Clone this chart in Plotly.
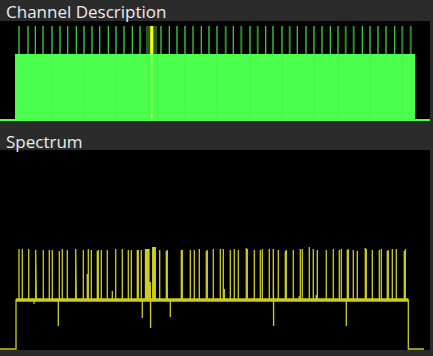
import plotly.graph_objects as go

# ---------------- data ----------------
# Channel Description panel (x in frequency bins)
band_start = 15
band_end = 415
channel_bright = [35.3, 67.7, 76.3, 99.7, 108.3, 132.3, 169.3, 193.0, 201.3, 233.3,
                  265.7, 297.3, 330.3, 362.3, 394.7]
channel_dark = [19.0, 28.0, 43.0, 52.0, 60.0, 84.0, 92.0, 116.0, 124.0, 140.0,
                161.0, 177.0, 185.0, 209.0, 217.0, 225.7, 241.3, 250.0, 257.7, 273.0,
                282.0, 289.7, 306.0, 314.0, 322.0, 338.0, 345.7, 353.7, 370.0, 378.0,
                386.0, 402.3, 410.7]
channel_edges = [52, 84, 116, 148, 157, 185, 217, 250, 282, 314, 338, 370, 402]
selected_channel = 151.7
selected_band = [146.0, 157.0]
bar_level = 67
tick_level = 95

# Spectrum panel (dB)
floor_db = -99.5
noise_db = -75.0
spectrum_start = 16
spectrum_end = 408.3
spectrum_stop = 424
spike_x = [19.0, 22.3, 28.7, 35.7, 36.3, 43.3, 49.3, 52.3, 59.3, 62.3, 67.3, 75.7, 76.3,
           83.3, 87.3, 88.3, 91.3, 97.3, 98.3, 101.3, 107.3, 112.3, 115.7, 122.3, 128.3,
           131.3, 137.3, 138.3, 141.3, 145.5, 146.3, 147.2, 148.1, 149.0, 150.3, 152.7,
           153.5, 154.4, 155.3, 159.7, 166.3, 167.3, 181.3, 182.3, 190.3, 194.3, 199.3,
           206.3, 207.3, 213.3, 220.3, 223.3, 224.3, 230.3, 234.3, 238.3, 246.3, 247.3,
           254.3, 260.3, 262.3, 269.3, 273.3, 278.3, 285.3, 286.3, 293.3, 299.3, 300.3,
           302.3, 309.3, 313.3, 316.3, 317.3, 326.3, 333.3, 339.3, 341.3, 347.3, 348.3,
           353.3, 357.3, 365.3, 366.3, 372.3, 379.3, 381.3, 387.3, 388.3, 392.3, 396.3,
           404.3, 405.3]
spike_db = [-49.5, -49.5, -49.5, -50.0, -50.0, -50.0, -50.0, -50.0, -50.5, -49.5, -50.0, -49.5, -49.5,
            -50.0, -62.0, -49.5, -50.0, -50.5, -50.0, -50.0, -50.0, -70.5, -49.5, -49.5, -50.0,
            -50.0, -50.0, -50.0, -50.0, -49.5, -49.5, -49.5, -49.5, -49.5, -66.0, -48.5,
            -48.5, -48.5, -48.5, -50.0, -50.5, -50.0, -50.0, -50.0, -50.0, -50.0, -49.5,
            -50.5, -50.0, -49.5, -49.5, -49.5, -69.5, -50.0, -49.5, -50.0, -49.0, -49.5,
            -50.0, -50.0, -49.5, -49.5, -49.5, -50.0, -50.5, -50.0, -50.0, -73.0, -49.5,
            -49.5, -48.5, -49.5, -72.5, -50.0, -50.0, -49.5, -50.0, -49.5, -50.0, -49.5,
            -50.0, -50.5, -49.0, -49.5, -50.0, -50.0, -49.5, -50.5, -50.0, -49.5, -49.5,
            -50.5, -49.5]
dip_x = [34.0, 58.3, 142.3, 150.6, 170.3, 273.6, 346.3]
dip_db = [-77.0, -88.0, -84.0, -89.0, -83.5, -88.0, -88.0]

# ---------------- build ----------------
BG = "#2b2b2b"
GREEN = "#4cff4c"
YELLOW = "#cccc22"

fig = go.Figure()

def vlines(xs, y0, y1):
    X, Y = [], []
    for x in xs:
        X += [x, x, None]
        Y += [y0, y1, None]
    return X, Y

# top panel
fig.add_trace(go.Scatter(x=[band_start, band_start, band_end, band_end],
                         y=[0, bar_level, bar_level, 0], fill="toself",
                         fillcolor=GREEN, line=dict(width=0), mode="lines",
                         xaxis="x", yaxis="y"))
X, Y = vlines(channel_edges, 0, bar_level)
fig.add_trace(go.Scatter(x=X, y=Y, mode="lines", line=dict(color="#47f447", width=1),
                         xaxis="x", yaxis="y"))
X, Y = vlines(channel_dark, bar_level, tick_level)
fig.add_trace(go.Scatter(x=X, y=Y, mode="lines", line=dict(color="#2a8a2a", width=2),
                         xaxis="x", yaxis="y"))
X, Y = vlines(channel_bright, bar_level, tick_level)
fig.add_trace(go.Scatter(x=X, y=Y, mode="lines", line=dict(color="#40dd40", width=1.2),
                         xaxis="x", yaxis="y"))
fig.add_trace(go.Scatter(x=[selected_band[0], selected_band[0], selected_band[1], selected_band[1]],
                         y=[bar_level, tick_level, tick_level, bar_level], fill="toself",
                         fillcolor="rgba(60,160,60,0.55)", line=dict(width=0), mode="lines",
                         xaxis="x", yaxis="y"))
fig.add_trace(go.Scatter(x=[selected_channel, selected_channel], y=[bar_level, tick_level],
                         mode="lines", line=dict(color="#ffff00", width=3),
                         xaxis="x", yaxis="y"))
fig.add_trace(go.Scatter(x=[selected_channel, selected_channel], y=[0, bar_level],
                         mode="lines", line=dict(color="#e8ff40", width=1.2),
                         xaxis="x", yaxis="y"))
fig.add_trace(go.Scatter(x=[0, 430], y=[1, 1], mode="lines",
                         line=dict(color=GREEN, width=2), xaxis="x", yaxis="y"))

# bottom panel: spectrum
events = sorted([(x, d) for x, d in zip(spike_x, spike_db)] +
                [(x, d) for x, d in zip(dip_x, dip_db)])
sx = [0, spectrum_start, spectrum_start]
sy = [floor_db, floor_db, noise_db]
for x, d in events:
    sx += [x, x, x]
    sy += [noise_db, d, noise_db]
sx += [spectrum_end, spectrum_end, spectrum_stop]
sy += [noise_db, floor_db, floor_db]
fig.add_trace(go.Scatter(x=sx, y=sy, mode="lines", line=dict(color=YELLOW, width=1.3),
                         xaxis="x2", yaxis="y2"))
fig.add_trace(go.Scatter(x=[spectrum_start, spectrum_end], y=[noise_db, noise_db], mode="lines",
                         line=dict(color=YELLOW, width=3.5), xaxis="x2", yaxis="y2"))

W, H = 433, 356
ax = dict(visible=False, range=[0, 430], fixedrange=True)
fig.update_layout(
    width=W, height=H, margin=dict(l=0, r=0, t=0, b=0),
    paper_bgcolor=BG, plot_bgcolor="black", showlegend=False, hovermode=False,
    xaxis=dict(ax, domain=[0, 430 / W], anchor="y"),
    yaxis=dict(visible=False, range=[0, 100], domain=[235 / H, 335 / H], anchor="x", fixedrange=True),
    xaxis2=dict(ax, domain=[0, 430 / W], anchor="y2"),
    yaxis2=dict(visible=False, range=[-100, 0], domain=[6 / H, 206 / H], anchor="x2", fixedrange=True),
    font=dict(family="Open Sans", color="#e6e6e6"),
    annotations=[
        dict(text="Channel Description", xref="paper", yref="paper", x=4 / W, y=(H - 11.5) / H,
             xanchor="left", yanchor="middle", showarrow=False, font=dict(size=17, color="#ececec")),
        dict(text="Spectrum", xref="paper", yref="paper", x=4 / W, y=(H - 141.5) / H,
             xanchor="left", yanchor="middle", showarrow=False, font=dict(size=17, color="#ececec")),
    ],
)
fig.write_html("out.html", config={"displayModeBar": False})
